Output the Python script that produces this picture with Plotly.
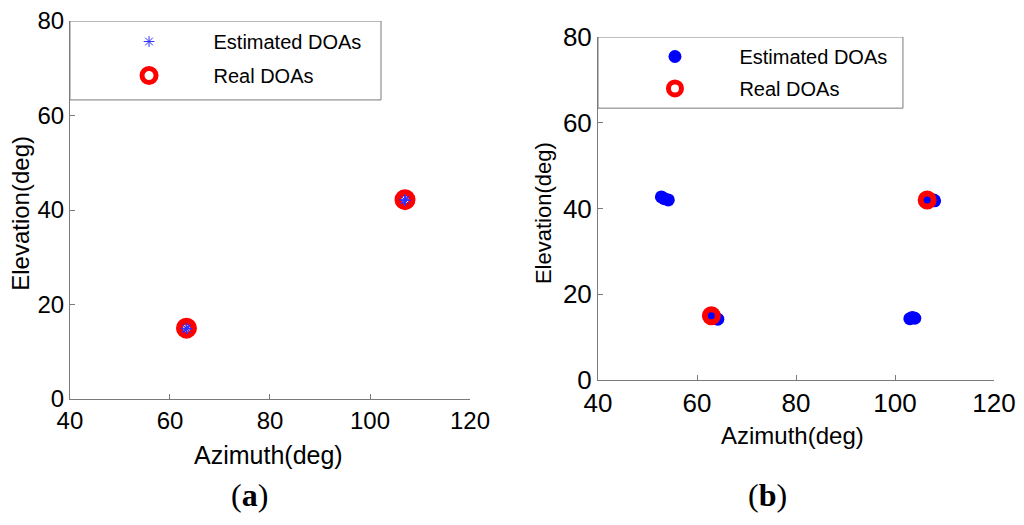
import plotly.graph_objects as go

# (a) estimated / real DOAs
est_a_az = [63.2, 63.4, 63.3, 106.9, 107.1, 107.0]
est_a_el = [15.0, 14.8, 14.9, 42.2, 42.0, 42.1]
real_a_az = [63.3, 107.0]
real_a_el = [15.0, 42.2]

# (b) estimated / real DOAs
est_b_az = [52.8, 53.4, 54.2, 62.8, 63.8, 64.2, 103.0, 103.5, 104.0, 106.5, 107.8, 108.0]
est_b_el = [42.7, 42.3, 42.0, 15.0, 14.4, 14.2, 14.3, 14.6, 14.4, 42.0, 42.0, 41.8]
real_b_az = [62.9, 106.5]
real_b_el = [15.0, 42.0]

ticks_x = [40, 60, 80, 100, 120]
ticks_y = [0, 20, 40, 60, 80]

font = "Liberation Sans, Arial, sans-serif"
gray = "#7a7a7a"
pad = "\u00a0" * 8  # push legend text away from the symbol

fig = go.Figure()

# left panel
fig.add_trace(go.Scatter(x=real_a_az, y=real_a_el, mode="markers", name=pad + "Real DOAs",
                         marker=dict(symbol="circle-open", size=14, color="#ff0000",
                                     line=dict(width=7, color="#ff0000")),
                         legend="legend", legendgroup="r", legendrank=2))
fig.add_trace(go.Scatter(x=est_a_az, y=est_a_el, mode="markers", name=pad + "Estimated DOAs",
                         marker=dict(symbol="asterisk-open", size=9, color="#3030ff",
                                     line=dict(width=1, color="#3030ff")),
                         legend="legend", legendgroup="e", legendrank=1))

# right panel
fig.add_trace(go.Scatter(x=est_b_az, y=est_b_el, mode="markers", name=pad + "Estimated DOAs",
                         marker=dict(symbol="circle", size=13, color="#0000ff"),
                         xaxis="x2", yaxis="y2",
                         legend="legend2", legendgroup="e2", legendrank=1))
fig.add_trace(go.Scatter(x=real_b_az, y=real_b_el, mode="markers", name=pad + "Real DOAs",
                         marker=dict(symbol="circle-open", size=13, color="#ff0000",
                                     line=dict(width=6, color="#ff0000")),
                         xaxis="x2", yaxis="y2",
                         legend="legend2", legendgroup="r2", legendrank=2))

ax = dict(showline=True, linecolor=gray, linewidth=1, mirror=False, showgrid=False,
          zeroline=False, ticks="inside", ticklen=5, tickcolor=gray, fixedrange=True,
          automargin=False, ticklabeloverflow="allow")

fig.update_layout(
    width=1024, height=525,
    margin=dict(l=0, r=0, t=0, b=0, autoexpand=False),
    paper_bgcolor="white", plot_bgcolor="white",
    font=dict(family=font, color="black"),
    xaxis=dict(ax, domain=[0.0605, 0.4512], range=[40, 120], tickvals=ticks_x,
               tickfont=dict(size=24), anchor="y"),
    yaxis=dict(ax, domain=[0.2552, 0.9752], range=[0, 80], tickvals=ticks_y,
               tickfont=dict(size=24), anchor="x"),
    xaxis2=dict(ax, domain=[0.5762, 0.9629], range=[40, 120], tickvals=ticks_x,
                tickfont=dict(size=26), anchor="y2"),
    yaxis2=dict(ax, domain=[0.2914, 0.9448], range=[0, 80], tickvals=ticks_y,
                tickfont=dict(size=26), anchor="x2"),
    legend=dict(x=0.1182, y=0.9733, xanchor="left", yanchor="top", bgcolor="rgba(0,0,0,0)",
                font=dict(size=20), tracegroupgap=5, itemsizing="trace"),
    legend2=dict(x=0.6318, y=0.9448, xanchor="left", yanchor="top", bgcolor="rgba(0,0,0,0)",
                 font=dict(size=20), tracegroupgap=3, itemsizing="trace"),
    shapes=[
        dict(type="rect", xref="x", yref="y", x0=40, x1=102.2, y0=63.3, y1=80,
             line=dict(color=gray, width=1), layer="below"),
        dict(type="rect", xref="x2", yref="y2", x0=40, x1=101.6, y0=63.4, y1=80,
             line=dict(color=gray, width=1), layer="below"),
    ],
)

notes = [
    ("Azimuth(deg)", 0.254, 0.1486, 0, 25, font),
    ("Elevation(deg)", 0.0115, 0.6095, -90, 24, font),
    ("Azimuth(deg)", 0.7666, 0.1848, 0, 24, font),
    ("Elevation(deg)", 0.5225, 0.6095, -90, 22, font),
    ("(<b>a</b>)", 0.2363, 0.0724, 0, 32, "Liberation Serif, serif"),
    ("(<b>b</b>)", 0.742, 0.0724, 0, 32, "Liberation Serif, serif"),
]
for txt, x, y, ang, size, fam in notes:
    fig.add_annotation(text=txt, x=x, y=y, xref="paper", yref="paper", showarrow=False,
                       xanchor="center", yanchor="middle", textangle=ang,
                       font=dict(size=size, family=fam))

fig.write_html("out.html")
